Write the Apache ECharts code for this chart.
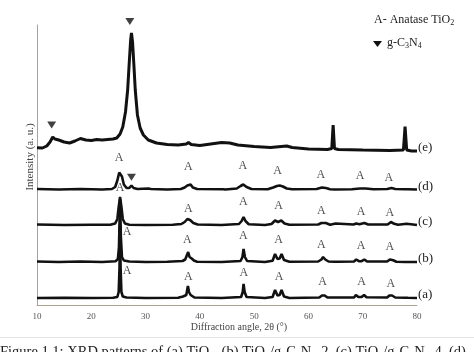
<!DOCTYPE html>
<html>
<head>
<meta charset="utf-8">
<script src="https://cdn.jsdelivr.net/npm/echarts@6/dist/echarts.min.js"></script>
<style>
  html, body { margin: 0; padding: 0; background: #fff; }
  #chart { width: 474px; height: 352px; }
</style>
</head>
<body>
<div id="chart"></div>
<script>
// XRD patterns, [2theta, intensity above own baseline]
const patA = [[10,0],[15,0.3],[20,0],[24,0.3],[24.8,1],[25.05,6],[25.2,30],[25.3,73],[25.4,30],[25.55,6],[25.8,1.5],[26.5,0.5],[30,0],[36,0.3],[36.9,1.5],[37.2,2],[37.5,3],[37.8,12],[38.0,6],[38.3,3],[38.6,2],[39,0.5],[44,0],[47.6,1],[47.9,6],[48.05,14],[48.25,6],[48.6,1],[52,0],[53.4,1],[53.85,8],[54.3,2.5],[54.7,3],[55.05,8],[55.5,1.5],[56.5,0],[62,0.5],[62.5,2.5],[62.7,4.5],[63,2.5],[63.5,0.5],[64.8,0.5],[65.05,2.5],[65.3,0.5],[68.4,0.5],[68.75,3],[69.2,1],[69.8,1],[70.25,3],[70.7,0.8],[74.5,0.5],[74.9,2.5],[75.1,4],[75.4,2.5],[76,0.5],[77.9,0.3],[78.1,2],[78.35,0.2],[80,0]];
const patB = [[10,0.5],[14,0],[18,0.5],[22,0],[24.5,0.8],[24.9,3],[25.1,15],[25.3,63],[25.45,25],[25.65,5],[26,1.5],[27,0.5],[30,0],[34,0.3],[36.8,1],[37.3,2.5],[37.6,4],[37.85,10],[38.1,5],[38.5,3.5],[38.9,1.5],[39.5,0.3],[44,0],[47.5,1],[47.85,5],[48.05,13],[48.3,5],[48.7,1],[52,0],[53.4,1.2],[53.85,8],[54.3,3],[54.7,3.5],[55.05,8],[55.5,2],[56.5,0.3],[61.8,0.5],[62.4,2.5],[62.7,5],[63.1,2.5],[63.7,0.5],[64.8,0.3],[65,1.5],[65.3,0.3],[68.4,0.5],[68.8,2.5],[69.3,0.8],[69.8,0.8],[70.3,2.5],[70.8,0.5],[74.5,0.5],[75,2.5],[75.2,3.5],[75.6,1.8],[76.2,0.3],[77.9,0],[78.1,1.5],[78.4,0],[80,0]];
const patC = [[10,0.5],[15,0],[20,0.3],[23.5,0.3],[24.4,1.5],[24.8,6],[25.05,18],[25.3,28],[25.55,18],[25.8,6],[26.2,1.5],[27,0.3],[30,0],[35,0.3],[36.6,1],[37.2,3],[37.7,6],[38.2,5],[38.8,2],[39.6,0.5],[44,0],[47.2,1],[47.7,4],[48.05,8],[48.4,4],[49,0.8],[52,0],[53.2,1],[53.85,4.5],[54.4,3],[55,4.5],[55.6,1.5],[56.5,0.3],[61.8,0.5],[62.4,2],[62.75,3],[63.2,2],[64,0.3],[65,1.5],[65.3,0],[68.3,0.5],[68.8,1.5],[69.4,0.8],[70.3,2],[71,0.5],[74.6,0.5],[75.2,3],[75.8,1.2],[76.5,0.2],[78.1,1.2],[78.4,0],[80,0]];
const patD = [[10,0.5],[14,0],[18,0.5],[22,0],[23.8,0.5],[24.4,2.5],[24.8,9],[25.15,17],[25.35,19],[25.65,13],[26,5],[26.5,1.5],[27,1.5],[27.4,4],[27.8,1.5],[28.5,0.5],[30.5,1],[31,0.5],[34,0],[36.5,0.5],[37.2,2],[37.7,4],[38.05,4],[38.3,5],[38.7,2],[39.5,0.5],[44.3,0.3],[44.5,1.5],[44.7,0],[46.8,1],[47.5,3.5],[48,5],[48.6,2.5],[49.5,0.5],[52.5,0.3],[53.5,2],[54.2,3.5],[54.7,4],[55.3,3],[56,1],[57,0.3],[61.5,0.5],[62.5,2],[63.2,1.5],[64,0.3],[64.9,0],[65.05,2],[65.25,0],[68,0.3],[69.5,1],[70.5,1],[72,0.2],[74.5,0.5],[75.3,1.5],[76,0.5],[77.8,0.3],[78.05,2],[78.3,0.3],[80,0]];
const patE = [[10,7.3],[11,7],[11.8,9],[12.4,13],[12.9,18],[13.3,16],[14,15],[15,13],[16,12],[17,14],[18,16.5],[19,15],[20,14.5],[21,15.5],[22,15],[23,15.5],[24,16],[24.7,17],[25.3,21],[25.8,28],[26.3,43],[26.7,65],[27,93],[27.25,115],[27.4,122],[27.6,113],[27.85,90],[28.1,65],[28.5,40],[29,27],[29.6,20],[30.5,15],[32,12],[34,10.5],[36,10],[37.5,11],[37.9,12.5],[38.4,10.5],[40,9.5],[42,11],[44,12.5],[45.5,12],[47,10],[50,8.5],[53,7.5],[56,9],[57,7.5],[60,6],[63.5,5.5],[64.3,6.5],[64.55,30],[64.8,6.5],[65.5,5.5],[70,5],[75,4.5],[77.5,5],[77.8,28.5],[78.1,5],[79,4],[80,4]];

const sampleNames = ['(a)', '(b)', '(c)', '(d)', '(e)'];
const patterns = [patA, patB, patC, patD, patE];
const offsets = [7, 43, 80, 115.5, 150];

// peak markers, [2theta, stacked intensity]
const anataseMarks = [
  [25.1,146.7],[37.9,137.7],[47.9,139],[54.3,134.3],[62.3,130],[69.5,129],[74.8,127.5],
  [25.3,116.7],[37.9,96.3],[48,102.7],[54.5,99],[62.4,94.3],[69.7,93.3],[75,91.7],
  [26.6,73.3],[37.7,65],[48,69],[54.5,65],[62.4,60],[69.7,59.3],[75,57.7],
  [26.6,34.3],[37.9,28.3],[48.1,32.3],[54.6,28.3],[62.6,23.3],[69.8,22.7],[75.2,21]
];
const gcnMarks = [[27.1,283.5],[12.7,180],[27.4,127.7]];

const xTicks = [10, 20, 30, 40, 50, 60, 70, 80];

const serif = 'Liberation Serif';
const chart = echarts.init(document.getElementById('chart'));

const lineSeries = patterns.map((pat, i) => ({
  type: 'line',
  name: sampleNames[i],
  data: pat.map((p) => [p[0], p[1] + offsets[i]]),
  showSymbol: false,
  symbol: 'none',
  lineStyle: { color: '#111', width: i === 4 ? 3 : 2.6 },
  endLabel: {
    show: true,
    formatter: sampleNames[i],
    color: '#222',
    fontFamily: serif,
    fontSize: 13,
    distance: 1,
    offset: [0, -3]
  },
  silent: true,
  animation: false
}));

chart.setOption({
  animation: false,
  grid: { left: 37, right: 57, top: 25, bottom: 47 },
  xAxis: {
    type: 'value',
    min: xTicks[0],
    max: xTicks[xTicks.length - 1],
    interval: 10,
    axisLine: { lineStyle: { color: '#aaa48f', width: 1 } },
    axisTick: { show: false },
    splitLine: { show: false },
    axisLabel: { color: '#555', fontFamily: serif, fontSize: 9, margin: 7 }
  },
  yAxis: {
    type: 'value',
    min: 0,
    max: 280,
    axisLine: { show: true, lineStyle: { color: '#aaa48f', width: 1 } },
    axisTick: { show: false },
    axisLabel: { show: false },
    splitLine: { show: false }
  },
  series: lineSeries.concat([
    {
      type: 'scatter',
      data: anataseMarks,
      symbolSize: 1,
      itemStyle: { color: 'rgba(0,0,0,0)' },
      label: {
        show: true,
        position: 'inside',
        formatter: 'A',
        color: '#222',
        fontFamily: serif,
        fontSize: 12
      },
      clip: false,
      silent: true
    },
    {
      type: 'scatter',
      data: gcnMarks,
      symbol: 'triangle',
      symbolRotate: 180,
      symbolSize: [9, 7],
      itemStyle: { color: '#111' },
      clip: false,
      silent: true
    }
  ]),
  graphic: [
    {
      type: 'text', x: 30, y: 157, rotation: Math.PI / 2,
      style: { text: 'Intensity (a. u.)', textAlign: 'center', textVerticalAlign: 'middle',
        font: '11px "Liberation Serif"', fill: '#444' }
    },
    {
      type: 'text', x: 239, y: 327,
      style: { text: 'Diffraction angle, 2\u03b8 (\u00b0)', textAlign: 'center', textVerticalAlign: 'middle',
        font: '10px "Liberation Serif"', fill: '#444' }
    },
    {
      type: 'text', x: 374, y: 20,
      style: {
        text: '{a|A- Anatase TiO}{s|2}', textVerticalAlign: 'middle',
        rich: {
          a: { fontFamily: serif, fontSize: 12, fill: '#222', color: '#222', lineHeight: 14, verticalAlign: 'middle' },
          s: { fontFamily: serif, fontSize: 8, fill: '#222', color: '#222', lineHeight: 14, verticalAlign: 'bottom' }
        }
      }
    },
    {
      type: 'polygon',
      shape: { points: [[373, 41], [382, 41], [377.5, 47]] },
      style: { fill: '#111' }
    },
    {
      type: 'text', x: 387, y: 43,
      style: {
        text: '{a|g-C}{s|3}{a|N}{s|4}', textVerticalAlign: 'middle',
        rich: {
          a: { fontFamily: serif, fontSize: 12, fill: '#222', color: '#222', lineHeight: 14, verticalAlign: 'middle' },
          s: { fontFamily: serif, fontSize: 8, fill: '#222', color: '#222', lineHeight: 14, verticalAlign: 'bottom' }
        }
      }
    },
    {
      type: 'line',
      shape: { x1: 0, y1: 337.5, x2: 474, y2: 337.5 },
      style: { stroke: '#e4e4e4', lineWidth: 1 }
    },
    {
      type: 'text', x: 0, y: 345,
      style: {
        text: 'Figure 1.1: XRD patterns of (a) TiO\u2082, (b) TiO\u2082/g-C\u2083N\u2084-2, (c) TiO\u2082/g-C\u2083N\u2084-4, (d)',
        font: '14.5px "Liberation Serif"', fill: '#222', textVerticalAlign: 'top'
      }
    }
  ]
});
</script>
</body>
</html>
